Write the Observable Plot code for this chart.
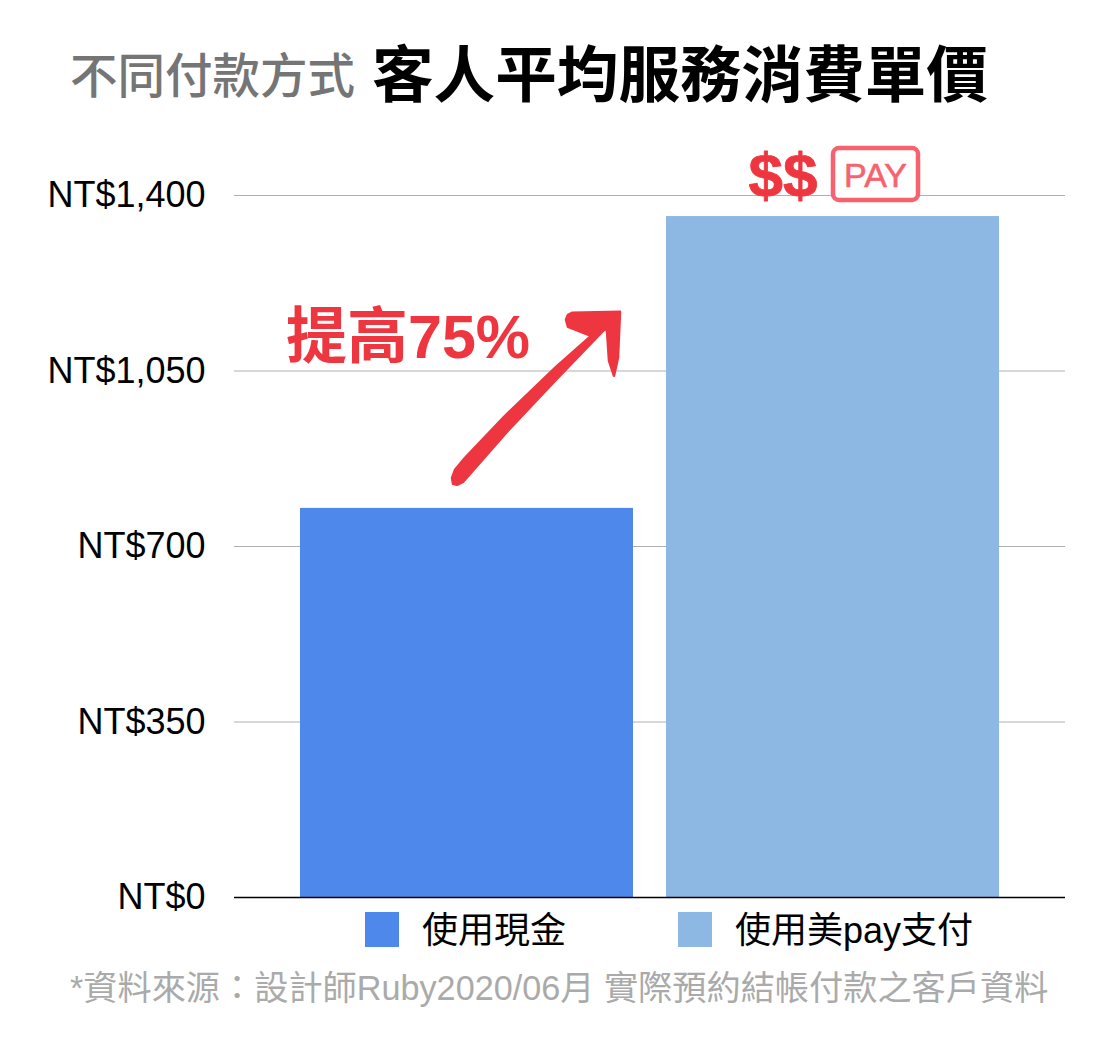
<!DOCTYPE html>
<html lang="zh-Hant">
<head>
<meta charset="utf-8">
<script src="https://cdn.jsdelivr.net/npm/d3@7"></script>
<script src="https://cdn.jsdelivr.net/npm/@observablehq/plot@0.6"></script>
<style>
html,body{margin:0;padding:0;background:#fff;}
body{width:1120px;height:1044px;position:relative;overflow:hidden;font-family:"Liberation Sans","Noto Sans CJK TC",sans-serif;}
.abs{position:absolute;white-space:nowrap;line-height:1;}
svg{display:block;position:absolute;left:0;top:130px;overflow:visible;}
</style>
</head>
<body>
<div class="abs" id="t1" style="left:70px;top:49px;font-size:47.5px;font-weight:500;color:#757575;font-family:'Noto Sans CJK TC';"></div>
<div class="abs" id="t2" style="left:372px;top:40px;font-size:61.6px;font-weight:700;color:#000;font-family:'Noto Sans CJK TC';"></div>
<div id="chart"></div>
<div id="legend"></div>
<div class="abs" id="cap" style="left:70px;top:971px;font-size:34.2px;color:#aaaaaa;"></div>
<script>
const titleLead = "不同付款方式";
const titleMain = "客人平均服務消費單價";
const caption = "*資料來源：設計師Ruby2020/06月 實際預約結帳付款之客戶資料";
const categories = ["使用現金", "使用美pay支付"];
const values = [776, 1358];
const colors = ["#4f88eb", "#8cb8e3"];
const yTicks = [0, 350, 700, 1050, 1400];
const uplift = "提高75%";
const red = "#ee3640";
const badgeRed = "#f6636f";

// hand-drawn brush arrow outline, offsets from its tip
const arrowOutline = [[-54,8],[-52,3],[-48,1],[0,0],[-2,46],[-6,64],[-11,49],[-13,19],[-15,17],[-66,70],[-114,121],[-157,170],[-163,173],[-167,172],[-168,166],[-165,158],[-155,146],[-116,105],[-64,55],[-29,24],[-52,15]];

const data = categories.map((c, i) => ({c, v: values[i]}));

document.getElementById("t1").textContent = titleLead;
document.getElementById("t2").textContent = titleMain;
document.getElementById("cap").textContent = caption;

const arrowMark = (index, {x, y}) => {
  const tipX = x(categories[0]) + x.bandwidth() - 13;
  const tipY = y(1167);
  const path = d3.create("svg:path")
    .attr("d", d3.line().x(d => tipX + d[0]).y(d => tipY + d[1]).curve(d3.curveLinearClosed)(arrowOutline))
    .attr("fill", red).attr("stroke", red).attr("stroke-width", 2.5).attr("stroke-linejoin", "round");
  return path.node();
};
const badgeMark = (index, {x, y}) => {
  const left = x(categories[1]) + 167;
  const g = d3.create("svg:g");
  g.append("rect").attr("x", left).attr("y", y(1400) - 47).attr("width", 85).attr("height", 52).attr("rx", 6)
    .attr("fill", "#fff").attr("stroke", badgeRed).attr("stroke-width", 4.5);
  g.append("text").attr("x", left + 42.5).attr("y", y(1400) - 8).attr("text-anchor", "middle")
    .attr("font-size", 34).attr("fill", badgeRed).attr("stroke", badgeRed).attr("stroke-width", 0.6)
    .attr("font-family", "Liberation Sans").text("PAY");
  return g.node();
};

const chart = Plot.plot({
  width: 1120, height: 775,
  marginLeft: 234, marginRight: 55, marginTop: 65, marginBottom: 8,
  style: {fontFamily: "Liberation Sans, Noto Sans CJK TC", background: "transparent", overflow: "visible"},
  x: {domain: categories, paddingInner: 0.09, paddingOuter: 0.18, axis: null},
  y: {domain: [0, 1400], axis: null},
  marks: [
    Plot.ruleY(yTicks.filter(d => d > 0), {stroke: "#b0b0b0", strokeWidth: 1}),
    Plot.barY(data, {x: "c", y: "v", fill: (d) => colors[categories.indexOf(d.c)]}),
    Plot.ruleY([0], {stroke: "#000", strokeWidth: 1.3}),
    Plot.axisY({ticks: yTicks, tickSize: 0, tickPadding: 29, fontSize: 36, fill: "#000",
      tickFormat: d => "NT$" + d3.format(",")(d), label: null}),
    Plot.text(["$$"], {x: () => categories[1], y: () => 1400, dx: -50, dy: -19, fontSize: 62, fontWeight: 700, fill: red, stroke: red, strokeWidth: 0.8}),
    Plot.text([uplift], {x: () => categories[0], y: () => 1115, dx: -59, fontSize: 61, fontWeight: 700, fill: red, fontFamily: "Liberation Sans, Noto Sans CJK TC"}),
    arrowMark,
    badgeMark
  ]
});
document.getElementById("chart").appendChild(chart);

// legend
const legend = document.getElementById("legend");
const legendX = [[365, 422], [678, 735]];
categories.forEach((c, i) => {
  const s = document.createElement("div");
  s.className = "abs";
  s.style.cssText = `left:${legendX[i][0]}px;top:912px;width:34px;height:35px;background:${colors[i]}`;
  legend.appendChild(s);
  const t = document.createElement("div");
  t.className = "abs";
  t.style.cssText = `left:${legendX[i][1]}px;top:913px;font-size:36px;color:#000`;
  t.textContent = c;
  legend.appendChild(t);
});
</script>
</body>
</html>
